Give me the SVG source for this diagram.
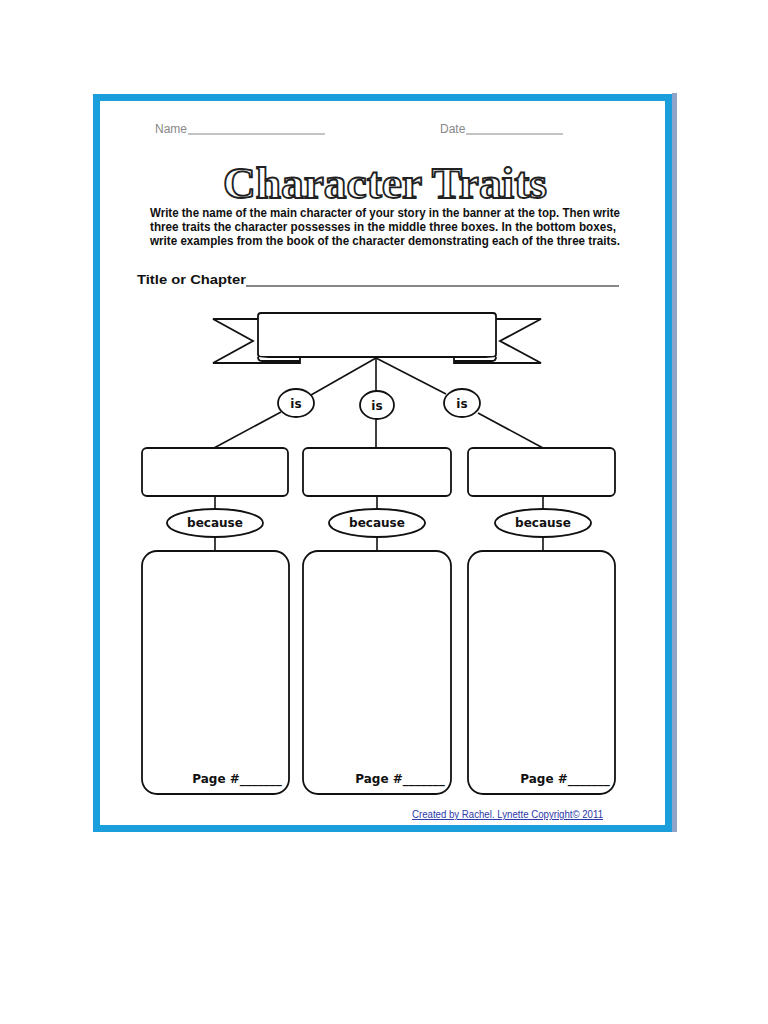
<svg xmlns="http://www.w3.org/2000/svg" width="768" height="1024" viewBox="0 0 768 1024">
<style>
.ln{stroke:#111;stroke-width:1.6;fill:none}
.box{fill:#fff;stroke:#111;stroke-width:1.8}
.lbl{font-family:"DejaVu Sans","Liberation Sans",sans-serif;font-weight:bold;font-size:12px;fill:#111;text-anchor:middle}
.body{font-family:"Liberation Sans",Arial,sans-serif;font-weight:bold;font-size:12.5px;fill:#111}
.grey{font-family:"Liberation Sans",Arial,sans-serif;font-size:12px;fill:#888}
</style>
<rect width="768" height="1024" fill="#fff"/>
<rect x="672" y="93" width="5" height="739" fill="#8fa4c8"/>
<rect x="96.5" y="97.5" width="572" height="731" fill="#fff" stroke="#1a9fdc" stroke-width="7"/>
<g id="header">
<text class="grey" x="155" y="133">Name</text>
<line x1="188" y1="134" x2="325" y2="134" stroke="#888" stroke-width="1"/>
<text class="grey" x="440" y="133">Date</text>
<line x1="466" y1="134" x2="563" y2="134" stroke="#888" stroke-width="1"/>
<text x="385" y="198" text-anchor="middle" font-family="Liberation Serif,serif" font-weight="bold" font-size="45" fill="#fff" stroke="#222" stroke-width="1.8" textLength="324" lengthAdjust="spacingAndGlyphs">Character Traits</text>
<text class="body" x="150" y="217" textLength="470" lengthAdjust="spacingAndGlyphs">Write the name of the main character of your story in the banner at the top. Then write</text>
<text class="body" x="150" y="231" textLength="466" lengthAdjust="spacingAndGlyphs">three traits the character possesses in the middle three boxes. In the bottom boxes,</text>
<text class="body" x="150" y="245" textLength="470" lengthAdjust="spacingAndGlyphs">write examples from the book of the character demonstrating each of the three traits.</text>
<text class="body" x="137" y="284" font-size="13.5" textLength="109" lengthAdjust="spacingAndGlyphs">Title or Chapter</text>
<line x1="246" y1="286" x2="619" y2="286" stroke="#111" stroke-width="1.2"/>
</g>
<g id="connectors">
<line class="ln" x1="376" y1="358" x2="311" y2="395"/>
<line class="ln" x1="281" y1="412" x2="214" y2="448"/>
<line class="ln" x1="376" y1="358" x2="376" y2="391"/>
<line class="ln" x1="376" y1="419" x2="376" y2="448"/>
<line class="ln" x1="376" y1="358" x2="446" y2="394"/>
<line class="ln" x1="478" y1="413" x2="543" y2="448"/>
<line class="ln" x1="215" y1="496" x2="215" y2="509"/>
<line class="ln" x1="215" y1="537" x2="215" y2="551"/>
<line class="ln" x1="377" y1="496" x2="377" y2="509"/>
<line class="ln" x1="377" y1="537" x2="377" y2="551"/>
<line class="ln" x1="543" y1="496" x2="543" y2="509"/>
<line class="ln" x1="543" y1="537" x2="543" y2="551"/>
</g>
<g id="banner">
<path class="box" d="M258 319 L213 319 L253 341 L213 363 L300 363 L300 357 Z"/>
<path class="box" d="M495 319 L541 319 L500 341 L541 363 L454 363 L454 357 Z"/>
<rect class="box" x="258" y="313" width="238" height="44" rx="3"/>
<path class="box" d="M258 357 Q258 361 262 361 L300 361"/>
<path class="box" d="M496 357 Q496 361 492 361 L454 361"/>
</g>
<g id="is1"><ellipse class="box" cx="296" cy="403" rx="18" ry="14"/><text class="lbl" x="296" y="408">is</text></g>
<g id="is2"><ellipse class="box" cx="377" cy="405" rx="17" ry="14"/><text class="lbl" x="377" y="410">is</text></g>
<g id="is3"><ellipse class="box" cx="462" cy="403" rx="18" ry="14"/><text class="lbl" x="462" y="408">is</text></g>
<g id="trait1"><rect class="box" x="142" y="448" width="146" height="48" rx="5"/></g>
<g id="trait2"><rect class="box" x="303" y="448" width="148" height="48" rx="5"/></g>
<g id="trait3"><rect class="box" x="468" y="448" width="147" height="48" rx="5"/></g>
<g id="because1"><ellipse class="box" cx="215" cy="523" rx="48" ry="14"/><text class="lbl" x="215" y="527">because</text></g>
<g id="because2"><ellipse class="box" cx="377" cy="523" rx="48" ry="14"/><text class="lbl" x="377" y="527">because</text></g>
<g id="because3"><ellipse class="box" cx="543" cy="523" rx="48" ry="14"/><text class="lbl" x="543" y="527">because</text></g>
<g id="example1"><rect class="box" x="142" y="551" width="147" height="243" rx="15"/><text class="lbl" x="237" y="783">Page #_______</text></g>
<g id="example2"><rect class="box" x="303" y="551" width="148" height="243" rx="15"/><text class="lbl" x="400" y="783">Page #_______</text></g>
<g id="example3"><rect class="box" x="468" y="551" width="147" height="243" rx="15"/><text class="lbl" x="565" y="783">Page #_______</text></g>
<g id="footer">
<text x="412" y="818" font-family="Liberation Sans,Arial,sans-serif" font-size="10" fill="#2b3aa8" text-decoration="underline" textLength="191" lengthAdjust="spacingAndGlyphs">Created by Rachel. Lynette Copyright© 2011</text>
</g>
</svg>
